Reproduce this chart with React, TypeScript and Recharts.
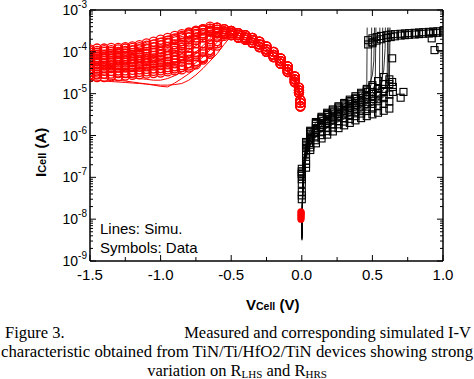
import React from "react";
import { ComposedChart, Line, Scatter, XAxis, YAxis } from "recharts";

const RED = "#ff0000";
const BLACK = "#000000";
const SANS = "'Liberation Sans', Arial, sans-serif";
const SERIF = "'Liberation Serif', 'Times New Roman', serif";

// ---- axes ----
const X_MAJOR = [-1.5, -1.0, -0.5, 0, 0.5, 1.0];
const X_LABELS = ["-1.5", "-1.0", "-0.5", "0.0", "0.5", "1.0"];
const X_MINOR = [-1.25, -0.75, -0.25, 0.25, 0.75];
const Y_DECADES = [1e-9, 1e-8, 1e-7, 1e-6, 1e-5, 1e-4, 1e-3];
const Y_EXP = ["-9", "-8", "-7", "-6", "-5", "-4", "-3"];
const Y_MINOR_MULT = [2, 3, 4, 5, 6, 7, 8, 9];

// ---- negative sweep (reset), red ----
const V_NEG = [
  -1.5, -1.45, -1.4, -1.35, -1.3, -1.25, -1.2, -1.15, -1.1, -1.05, -1.0, -0.95,
  -0.9, -0.85, -0.8, -0.75, -0.7, -0.65, -0.6, -0.55, -0.5, -0.45, -0.4, -0.35,
  -0.3, -0.25, -0.2, -0.15, -0.1, -0.05, -0.02, -0.01,
];
// low-resistance branch, V = -0.65 ... -0.01
const LRS_HI = [4.0e-4, 3.8e-4, 3.5e-4, 3.15e-4, 2.8e-4, 2.5e-4, 2.15e-4, 1.75e-4, 1.35e-4, 1.0e-4, 7e-5, 4.5e-5, 2.6e-5, 1.4e-5, 7e-6];
const LRS_MID = [3.6e-4, 3.4e-4, 3.1e-4, 2.8e-4, 2.5e-4, 2.2e-4, 1.9e-4, 1.5e-4, 1.15e-4, 8.5e-5, 6e-5, 3.8e-5, 2.2e-5, 1.2e-5, 6e-6];
const LRS_LO = [3.2e-4, 3.0e-4, 2.75e-4, 2.5e-4, 2.2e-4, 1.95e-4, 1.65e-4, 1.3e-4, 1.0e-4, 7.5e-5, 5.2e-5, 3.3e-5, 1.9e-5, 1.05e-5, 5e-6];

// measured reset parts (from -1.5 V)
const RESET_A = [1.15e-4, 1.2e-4, 1.2e-4, 1.25e-4, 1.25e-4, 1.3e-4, 1.35e-4, 1.45e-4, 1.6e-4, 1.75e-4, 1.95e-4, 2.15e-4, 2.4e-4, 2.65e-4, 2.9e-4, 3.2e-4, 3.5e-4];
const RESET_H = [1.05e-4, 1.05e-4, 1.1e-4, 1.1e-4, 1.15e-4, 1.2e-4, 1.25e-4, 1.3e-4, 1.4e-4, 1.5e-4, 1.65e-4, 1.85e-4, 2.1e-4, 2.4e-4, 2.75e-4, 3.1e-4, 3.5e-4];
const RESET_B = [9.5e-5, 9.5e-5, 1.0e-4, 1.0e-4, 1.0e-4, 1.05e-4, 1.1e-4, 1.15e-4, 1.2e-4, 1.3e-4, 1.45e-4, 1.65e-4, 1.9e-4, 2.2e-4, 2.6e-4, 3.0e-4, 3.4e-4];
const RESET_I = [8.5e-5, 8.5e-5, 8.5e-5, 8.8e-5, 9e-5, 9e-5, 9.3e-5, 9.6e-5, 1.0e-4, 1.05e-4, 1.15e-4, 1.3e-4, 1.5e-4, 1.8e-4, 2.2e-4, 2.7e-4, 3.2e-4];
const RESET_C = [7.5e-5, 7.5e-5, 7.5e-5, 8e-5, 8e-5, 8e-5, 8.5e-5, 8.5e-5, 9e-5, 9.5e-5, 1.0e-4, 1.1e-4, 1.25e-4, 1.45e-4, 1.75e-4, 2.2e-4, 2.8e-4];
const RESET_J = [6.7e-5, 6.7e-5, 6.8e-5, 6.8e-5, 7e-5, 7e-5, 7.2e-5, 7.4e-5, 7.6e-5, 8e-5, 8.5e-5, 9.2e-5, 1.05e-4, 1.25e-4, 1.5e-4, 1.9e-4, 2.5e-4, 3.2e-4];
const RESET_D = [6e-5, 6e-5, 6e-5, 6e-5, 6.2e-5, 6.2e-5, 6.5e-5, 6.5e-5, 6.8e-5, 7e-5, 7.3e-5, 7.8e-5, 8.5e-5, 1.0e-4, 1.25e-4, 1.6e-4, 2.2e-4, 3.0e-4];
const RESET_K = [5.3e-5, 5.3e-5, 5.3e-5, 5.4e-5, 5.5e-5, 5.5e-5, 5.7e-5, 5.8e-5, 6e-5, 6.2e-5, 6.5e-5, 6.8e-5, 7.3e-5, 8.2e-5, 9.5e-5, 1.2e-4, 1.6e-4, 2.3e-4, 3.0e-4];
const RESET_E = [4.6e-5, 4.6e-5, 4.7e-5, 4.7e-5, 4.8e-5, 4.8e-5, 5e-5, 5e-5, 5.2e-5, 5.4e-5, 5.6e-5, 5.8e-5, 6.2e-5, 7e-5, 8e-5, 1.0e-4, 1.4e-4, 2.0e-4, 2.8e-4];
const RESET_L = [4e-5, 4e-5, 4.1e-5, 4.1e-5, 4.2e-5, 4.2e-5, 4.3e-5, 4.4e-5, 4.5e-5, 4.7e-5, 4.8e-5, 5e-5, 5.3e-5, 5.8e-5, 6.5e-5, 7.8e-5, 1.0e-4, 1.5e-4, 2.3e-4];
const RESET_F = [3.4e-5, 3.4e-5, 3.5e-5, 3.5e-5, 3.6e-5, 3.6e-5, 3.7e-5, 3.8e-5, 3.9e-5, 4e-5, 4.1e-5, 4.3e-5, 4.5e-5, 4.8e-5, 5.3e-5, 6e-5, 7.5e-5, 1.1e-4, 1.8e-4];
const RESET_M = [2.9e-5, 2.9e-5, 3.0e-5, 3.0e-5, 3.1e-5, 3.1e-5, 3.2e-5, 3.3e-5, 3.4e-5, 3.5e-5, 3.6e-5, 3.8e-5, 4e-5, 4.3e-5, 4.7e-5, 5.5e-5, 7e-5, 1.0e-4, 1.6e-4, 2.6e-4];
const RESET_G = [2.5e-5, 2.5e-5, 2.5e-5, 2.6e-5, 2.6e-5, 2.7e-5, 2.8e-5, 2.9e-5, 3.0e-5, 3.1e-5, 3.2e-5, 3.4e-5, 3.6e-5, 3.8e-5, 4.2e-5, 5e-5, 6.5e-5, 9e-5, 1.4e-4, 2.4e-4];

// simulated reset parts
const SIM_A = [1.05e-4, 1.1e-4, 1.1e-4, 1.15e-4, 1.2e-4, 1.25e-4, 1.35e-4, 1.5e-4, 1.7e-4, 1.9e-4, 2.1e-4, 2.35e-4, 2.6e-4, 2.9e-4, 3.2e-4, 3.4e-4, 3.6e-4];
const SIM_H = [9.5e-5, 1.0e-4, 1.0e-4, 1.05e-4, 1.1e-4, 1.15e-4, 1.2e-4, 1.3e-4, 1.45e-4, 1.6e-4, 1.8e-4, 2.0e-4, 2.25e-4, 2.55e-4, 2.9e-4, 3.2e-4, 3.5e-4];
const SIM_B = [8.5e-5, 8.5e-5, 8.8e-5, 9e-5, 9.2e-5, 9.5e-5, 1.0e-4, 1.05e-4, 1.1e-4, 1.2e-4, 1.35e-4, 1.5e-4, 1.75e-4, 2.05e-4, 2.4e-4, 2.8e-4, 3.2e-4];
const SIM_I = [7e-5, 7e-5, 7e-5, 7.2e-5, 7.4e-5, 7.6e-5, 7.8e-5, 8e-5, 8.3e-5, 8.8e-5, 9.5e-5, 1.05e-4, 1.2e-4, 1.4e-4, 1.7e-4, 2.1e-4, 2.7e-4, 3.3e-4];
const SIM_C = [5.5e-5, 5.5e-5, 5.6e-5, 5.7e-5, 5.8e-5, 6e-5, 6.2e-5, 6.5e-5, 6.8e-5, 7.2e-5, 7.8e-5, 8.5e-5, 1.0e-4, 1.2e-4, 1.5e-4, 2.0e-4, 2.7e-4];
const SIM_J = [4.8e-5, 4.8e-5, 4.9e-5, 5e-5, 5e-5, 5.1e-5, 5.3e-5, 5.5e-5, 5.7e-5, 6e-5, 6.4e-5, 7e-5, 7.8e-5, 9e-5, 1.1e-4, 1.4e-4, 1.9e-4, 2.6e-4];
const SIM_D = [4e-5, 4e-5, 4e-5, 4e-5, 4e-5, 4e-5, 4e-5, 4.1e-5, 4.2e-5, 4.3e-5, 4.5e-5, 4.8e-5, 5.3e-5, 6e-5, 7e-5, 9e-5, 1.2e-4, 1.8e-4, 2.8e-4];
const SIM_G = [3.2e-5, 3.3e-5, 3.3e-5, 3.4e-5, 3.5e-5, 3.6e-5, 3.7e-5, 3.9e-5, 4.1e-5, 4.4e-5, 4.7e-5, 5.1e-5, 5.7e-5, 6.5e-5, 8e-5, 1.0e-4, 1.4e-4, 2.1e-4, 3.0e-4];
const SIM_F = [3e-5, 2.9e-5, 2.8e-5, 2.7e-5, 2.6e-5, 2.5e-5, 2.4e-5, 2.3e-5, 2.2e-5, 2.1e-5, 2.1e-5, 2.3e-5, 2.7e-5, 3.3e-5, 4.2e-5, 5.5e-5, 7.5e-5, 1.1e-4, 1.7e-4, 2.5e-4];
const SIM_E = [2.6e-5, 2.5e-5, 2.3e-5, 2.2e-5, 2.1e-5, 2.0e-5, 1.9e-5, 1.8e-5, 1.7e-5, 1.6e-5, 1.5e-5, 1.45e-5, 1.8e-5, 2.3e-5, 3e-5, 4e-5, 5.5e-5, 8e-5, 1.3e-4, 2.0e-4, 2.7e-4];
const SIM_K = [2.2e-5, 2.1e-5, 2.0e-5, 1.95e-5, 1.9e-5, 1.85e-5, 1.8e-5, 1.75e-5, 1.7e-5, 1.65e-5, 1.6e-5, 1.6e-5, 1.65e-5, 1.75e-5, 2.1e-5, 2.8e-5, 4e-5, 6e-5, 9e-5, 1.5e-4, 2.4e-4];

// red cluster right at 0 V
const RED_ZERO_V = [-0.006, -0.005, -0.006, -0.005, -0.004, -0.006];
const RED_ZERO_I = [1.0e-8, 1.1e-8, 1.2e-8, 1.3e-8, 1.4e-8, 1.5e-8];

// ---- positive sweep (set), black ----
const V_POS = [0, 0.03, 0.06, 0.1, 0.14, 0.18, 0.22, 0.26, 0.3, 0.34, 0.38, 0.42, 0.46, 0.5, 0.54, 0.58, 0.62];
const SQ_A = [1.6e-7, 7e-7, 1.2e-6, 1.9e-6, 2.5e-6, 3.1e-6, 3.7e-6, 4.4e-6, 5.2e-6, 6.2e-6, 7.5e-6, 9e-6, 1.1e-5];
const SQ_G = [1.3e-7, 6.5e-7, 1.25e-6, 2e-6, 2.65e-6, 3.3e-6, 3.95e-6, 4.7e-6, 5.6e-6, 6.7e-6, 8e-6, 9.7e-6, 1.2e-5, 1.45e-5];
const SQ_B = [1.1e-7, 5e-7, 1.0e-6, 1.5e-6, 2e-6, 2.5e-6, 3e-6, 3.6e-6, 4.2e-6, 5e-6, 6e-6, 7e-6, 8.5e-6, 1.0e-5, 1.3e-5];
const SQ_H = [9e-8, 4.2e-7, 9e-7, 1.35e-6, 1.8e-6, 2.25e-6, 2.7e-6, 3.25e-6, 3.8e-6, 4.5e-6, 5.3e-6, 6.2e-6, 7.4e-6, 8.7e-6, 1.05e-5, 1.3e-5, 1.7e-5];
const SQ_C = [7e-8, 3.5e-7, 8e-7, 1.2e-6, 1.6e-6, 2e-6, 2.4e-6, 2.9e-6, 3.4e-6, 4e-6, 4.7e-6, 5.5e-6, 6.4e-6, 7.5e-6, 9e-6, 1.1e-5];
const SQ_D = [4.5e-8, 2.5e-7, 6e-7, 9e-7, 1.2e-6, 1.5e-6, 1.85e-6, 2.2e-6, 2.6e-6, 3.1e-6, 3.6e-6, 4.2e-6, 4.9e-6, 5.7e-6, 6.6e-6, 7.8e-6, 9.5e-6];
const SQ_I = [3.7e-8, 2.1e-7, 5.2e-7, 7.7e-7, 1.02e-6, 1.27e-6, 1.55e-6, 1.85e-6, 2.15e-6, 2.5e-6, 2.9e-6, 3.35e-6, 3.85e-6, 4.4e-6, 5e-6, 5.7e-6, 6.6e-6];
const SQ_E = [3e-8, 1.7e-7, 4.5e-7, 6.5e-7, 8.5e-7, 1.05e-6, 1.25e-6, 1.5e-6, 1.75e-6, 2e-6, 2.3e-6, 2.6e-6, 2.9e-6, 3.2e-6, 3.5e-6, 3.9e-6, 4.4e-6];
const SQ_F = [1.4e-7, 6e-7, 1.3e-6, 2.1e-6, 2.8e-6, 3.5e-6, 4.2e-6, 5e-6, 6e-6, 7.2e-6, 8.7e-6, 1.05e-5, 1.3e-5, 1.6e-5, 2.0e-5, 2.5e-5];
const SQ_J = [1.2e-7, 5.5e-7, 1.1e-6, 1.7e-6, 2.25e-6, 2.8e-6, 3.35e-6, 4e-6, 4.7e-6, 5.6e-6, 6.6e-6, 7.8e-6, 9.3e-6, 1.1e-5, 1.35e-5, 1.7e-5, 2.2e-5];

const V_LRS_POS = [0.47, 0.5, 0.53, 0.56, 0.6, 0.63, 0.66, 0.7, 0.73, 0.76, 0.8, 0.83, 0.86, 0.9, 0.93, 0.96, 1.0];
const LRS_POS_HI = [1.9e-4, 2.1e-4, 2.25e-4, 2.4e-4, 2.5e-4, 2.6e-4, 2.65e-4, 2.7e-4, 2.75e-4, 2.8e-4, 2.85e-4, 2.9e-4, 2.95e-4, 3.0e-4, 3.05e-4, 3.1e-4, 3.2e-4];
const LRS_POS_LO = [1.5e-4, 1.7e-4, 1.85e-4, 2.0e-4, 2.15e-4, 2.25e-4, 2.35e-4, 2.45e-4, 2.5e-4, 2.55e-4, 2.6e-4, 2.65e-4, 2.7e-4, 2.75e-4, 2.8e-4, 2.85e-4, 2.9e-4];

const OUT_V = [0.64, 0.64, 0.645, 0.645, 0.72, 0.70, 0.5, 0.92, 0.94, 0.98];
const OUT_I = [7e-5, 1.9e-5, 1.45e-5, 1.1e-5, 1.1e-5, 8e-6, 1.6e-4, 2.1e-4, 1.1e-4, 1.3e-4];

// simulated set curves: shared HRS voltages, then each curve's own jump
const BSIM_V = [0.001, 0.003, 0.007, 0.015, 0.03, 0.05, 0.08, 0.12, 0.17, 0.22, 0.28, 0.34, 0.4, 0.45];
const BSIM_1 = [4e-9, 2e-8, 7e-8, 2.5e-7, 6e-7, 1.0e-6, 1.5e-6, 2.1e-6, 2.8e-6, 3.5e-6, 4.5e-6, 5.8e-6, 7.5e-6, 1.0e-5];
const BSIM_2 = [3.8e-9, 1.8e-8, 6e-8, 2e-7, 5e-7, 8.5e-7, 1.3e-6, 1.8e-6, 2.4e-6, 3e-6, 3.8e-6, 4.8e-6, 6.2e-6, 8e-6];
const BSIM_3 = [3.5e-9, 1.6e-8, 5e-8, 1.7e-7, 4.2e-7, 7.2e-7, 1.1e-6, 1.55e-6, 2.05e-6, 2.6e-6, 3.3e-6, 4.1e-6, 5.2e-6, 6.5e-6];
const BSIM_4 = [3.3e-9, 1.5e-8, 4.5e-8, 1.5e-7, 3.6e-7, 6.2e-7, 9.5e-7, 1.35e-6, 1.8e-6, 2.25e-6, 2.85e-6, 3.5e-6, 4.4e-6, 5.4e-6];
const BSIM_5 = [3.2e-9, 1.4e-8, 4e-8, 1.3e-7, 3.1e-7, 5.3e-7, 8.2e-7, 1.15e-6, 1.55e-6, 1.95e-6, 2.45e-6, 3e-6, 3.7e-6, 4.5e-6];
const BSIM_6 = [4.2e-9, 2.2e-8, 8e-8, 2.8e-7, 7e-7, 1.15e-6, 1.7e-6, 2.4e-6, 3.2e-6, 4e-6, 5.2e-6, 6.7e-6, 8.8e-6, 1.2e-5];
const BSIM_7 = [3.6e-9, 1.7e-8, 5.5e-8, 1.9e-7, 4.6e-7, 7.8e-7, 1.2e-6, 1.7e-6, 2.25e-6, 2.8e-6, 3.55e-6, 4.4e-6, 5.6e-6, 7e-6];
const BSIM_8 = [3.9e-9, 1.9e-8, 6.5e-8, 2.2e-7, 5.5e-7, 9.2e-7, 1.4e-6, 1.95e-6, 2.6e-6, 3.25e-6, 4.15e-6, 5.3e-6, 6.8e-6, 9e-6];
const BSIM_9 = [3.4e-9, 1.55e-8, 4.7e-8, 1.6e-7, 3.9e-7, 6.7e-7, 1.02e-6, 1.45e-6, 1.92e-6, 2.42e-6, 3.05e-6, 3.8e-6, 4.8e-6, 6e-6];
const BSIM_10 = [3.1e-9, 1.3e-8, 3.7e-8, 1.2e-7, 2.9e-7, 5e-7, 7.7e-7, 1.08e-6, 1.45e-6, 1.85e-6, 2.3e-6, 2.85e-6, 3.5e-6, 4.2e-6];
const TAIL_1 = [[0.46, 1.3e-5], [0.463, 3.8e-4]];
const TAIL_2 = [[0.5, 1.1e-5], [0.52, 1.8e-5], [0.525, 3.8e-4]];
const TAIL_3 = [[0.5, 8.5e-6], [0.55, 1.3e-5], [0.57, 2e-5], [0.573, 3.8e-4]];
const TAIL_4 = [[0.5, 7e-6], [0.55, 9.5e-6], [0.59, 1.4e-5], [0.605, 2.5e-5], [0.608, 3.8e-4]];
const TAIL_5 = [[0.5, 5.7e-6], [0.55, 7.5e-6], [0.6, 1.0e-5], [0.62, 1.5e-5], [0.625, 3.8e-4]];
const TAIL_6 = [[0.48, 1.7e-5], [0.5, 2.8e-5], [0.51, 6e-5], [0.515, 3.8e-4]];
const TAIL_7 = [[0.5, 9.5e-6], [0.54, 1.3e-5], [0.56, 1.9e-5], [0.58, 3.5e-5], [0.59, 1.2e-4], [0.592, 3.8e-4]];
const TAIL_8 = [[0.47, 1.1e-5], [0.49, 1.6e-5], [0.495, 3.8e-4]];
const TAIL_9 = [[0.5, 7.8e-6], [0.54, 1.1e-5], [0.55, 1.6e-5], [0.553, 3.8e-4]];
const TAIL_10 = [[0.5, 5.3e-6], [0.55, 7e-6], [0.6, 9.5e-6], [0.615, 2e-5], [0.617, 3.8e-4]];

type Pt = { v: number; i: number };

function zip(vs: number[], is: number[]): Pt[] {
  return is.map((i, k) => ({ v: vs[k], i }));
}

// reset head followed by the matching part of an LRS branch
function resetCurve(head: number[], lrs: number[]): Pt[] {
  const offset = V_NEG.length - lrs.length;
  const vals = [...head, ...lrs.slice(head.length - offset)];
  return zip(V_NEG, vals);
}

function setCurve(hrs: number[], tail: number[][]): Pt[] {
  return [...zip(BSIM_V, hrs), ...tail.map(([v, i]) => ({ v, i }))];
}

const RED_DATA = [
  resetCurve(RESET_A, LRS_HI),
  resetCurve(RESET_H, LRS_MID),
  resetCurve(RESET_B, LRS_MID),
  resetCurve(RESET_I, LRS_LO),
  resetCurve(RESET_C, LRS_LO),
  resetCurve(RESET_J, LRS_HI),
  resetCurve(RESET_D, LRS_HI),
  resetCurve(RESET_K, LRS_MID),
  resetCurve(RESET_E, LRS_MID),
  resetCurve(RESET_L, LRS_LO),
  resetCurve(RESET_F, LRS_LO),
  resetCurve(RESET_M, LRS_HI),
  resetCurve(RESET_G, LRS_MID),
];
const RED_SIM = [
  resetCurve(SIM_A, LRS_MID),
  resetCurve(SIM_H, LRS_HI),
  resetCurve(SIM_B, LRS_HI),
  resetCurve(SIM_I, LRS_MID),
  resetCurve(SIM_C, LRS_LO),
  resetCurve(SIM_J, LRS_LO),
  resetCurve(SIM_D, LRS_MID),
  resetCurve(SIM_G, LRS_HI),
  resetCurve(SIM_F, LRS_MID),
  resetCurve(SIM_E, LRS_LO),
  resetCurve(SIM_K, LRS_MID),
];
const BLACK_DATA = [
  ...[SQ_A, SQ_G, SQ_B, SQ_H, SQ_C, SQ_D, SQ_I, SQ_E, SQ_F, SQ_J].map((s) => zip(V_POS, s)),
  zip(V_LRS_POS, LRS_POS_HI),
  zip(V_LRS_POS, LRS_POS_LO),
  zip(OUT_V, OUT_I),
];
const BLACK_SIM = [
  setCurve(BSIM_1, TAIL_1),
  setCurve(BSIM_2, TAIL_2),
  setCurve(BSIM_3, TAIL_3),
  setCurve(BSIM_4, TAIL_4),
  setCurve(BSIM_5, TAIL_5),
  setCurve(BSIM_6, TAIL_6),
  setCurve(BSIM_7, TAIL_7),
  setCurve(BSIM_8, TAIL_8),
  setCurve(BSIM_9, TAIL_9),
  setCurve(BSIM_10, TAIL_10),
];
const RED_ZERO = zip(RED_ZERO_V, RED_ZERO_I);

const X_TICKS = [...X_MAJOR, ...X_MINOR].sort((a, b) => a - b);
const Y_TICKS = [
  ...Y_DECADES,
  ...Y_DECADES.slice(0, -1).flatMap((d) => Y_MINOR_MULT.map((m) => m * d)),
].sort((a, b) => a - b);

function decadeIndex(v: number) {
  return Y_DECADES.findIndex((d) => Math.abs(v / d - 1) < 1e-6);
}
function xMajorIndex(v: number) {
  return X_MAJOR.findIndex((d) => Math.abs(v - d) < 1e-6);
}

function LeftTick(p: any) {
  const k = decadeIndex(p.payload.value);
  return (
    <g>
      <line x1={p.x} x2={p.x + (k >= 0 ? 6 : 3)} y1={p.y} y2={p.y} stroke={BLACK} strokeWidth={1} />
      {k >= 0 && (
        <text x={p.x - 3} y={p.y + 5} textAnchor="end" fontFamily={SANS} fontSize={14} fill={BLACK}>
          10<tspan dy={-7} fontSize={10}>{Y_EXP[k]}</tspan>
        </text>
      )}
    </g>
  );
}

function RightTick(p: any) {
  const k = decadeIndex(p.payload.value);
  return <line x1={p.x} x2={p.x - (k >= 0 ? 6 : 3)} y1={p.y} y2={p.y} stroke={BLACK} strokeWidth={1} />;
}

function BottomTick(p: any) {
  const k = xMajorIndex(p.payload.value);
  return (
    <g>
      <line x1={p.x} x2={p.x} y1={p.y} y2={p.y - (k >= 0 ? 6 : 4)} stroke={BLACK} strokeWidth={1} />
      {k >= 0 && (
        <text x={p.x} y={p.y + 19} textAnchor="middle" fontFamily={SANS} fontSize={15} fill={BLACK}>
          {X_LABELS[k]}
        </text>
      )}
    </g>
  );
}

function TopTick(p: any) {
  const k = xMajorIndex(p.payload.value);
  return <line x1={p.x} x2={p.x} y1={p.y} y2={p.y + (k >= 0 ? 6 : 4)} stroke={BLACK} strokeWidth={1} />;
}

const circleShape = (p: any) => (
  <circle cx={p.cx} cy={p.cy} r={4.5} fill="none" stroke={RED} strokeWidth={1.3} />
);
const blobShape = (p: any) => <circle cx={p.cx} cy={p.cy} r={3.6} fill={RED} stroke="none" />;
const squareShape = (p: any) => (
  <rect x={p.cx - 3.5} y={p.cy - 3.5} width={7} height={7} fill="none" stroke={BLACK} strokeWidth={1.1} />
);

const frame = { stroke: BLACK, strokeWidth: 1.5 };

export default function App() {
  return (
    <div style={{ position: "absolute", left: 0, top: 0, width: 474, height: 379, background: "#fff" }}>
      <ComposedChart width={474} height={300} margin={{ top: 9, right: 30, bottom: 9, left: 0 }}>
        <XAxis
          type="number" dataKey="v" domain={[-1.5, 1]} allowDataOverflow ticks={X_TICKS} interval={0}
          tickSize={0} tickMargin={0} tickLine={false} axisLine={frame} height={30}
          tick={(p: any) => <BottomTick {...p} />}
        />
        <XAxis
          xAxisId="top" orientation="top" type="number" dataKey="v" domain={[-1.5, 1]} allowDataOverflow
          ticks={X_TICKS} interval={0} tickSize={0} tickMargin={0} tickLine={false} axisLine={frame} height={1}
          tick={(p: any) => <TopTick {...p} />}
        />
        <YAxis
          type="number" dataKey="i" scale="log" domain={[1e-9, 1e-3]} allowDataOverflow ticks={Y_TICKS}
          interval={0} tickSize={0} tickMargin={0} tickLine={false} axisLine={frame} width={90}
          tick={(p: any) => <LeftTick {...p} />}
        />
        <YAxis
          yAxisId="right" orientation="right" type="number" dataKey="i" scale="log" domain={[1e-9, 1e-3]}
          allowDataOverflow ticks={Y_TICKS} interval={0} tickSize={0} tickMargin={0} tickLine={false}
          axisLine={frame} width={1} tick={(p: any) => <RightTick {...p} />}
        />

        {RED_SIM.map((d, k) => (
          <Line key={`rs${k}`} data={d} dataKey="i" stroke={RED} strokeWidth={1} dot={false} type="linear" isAnimationActive={false} />
        ))}
        {RED_DATA.map((d, k) => (
          <Scatter key={`rd${k}`} data={d} dataKey="i" shape={circleShape} isAnimationActive={false} />
        ))}
        {BLACK_SIM.map((d, k) => (
          <Line key={`bs${k}`} data={d} dataKey="i" stroke={BLACK} strokeWidth={0.8} dot={false} type="linear" isAnimationActive={false} />
        ))}
        {BLACK_DATA.map((d, k) => (
          <Scatter key={`bd${k}`} data={d} dataKey="i" shape={squareShape} isAnimationActive={false} />
        ))}
        <Scatter data={RED_ZERO} dataKey="i" shape={blobShape} isAnimationActive={false} />
      </ComposedChart>

      <svg width={474} height={379} style={{ position: "absolute", left: 0, top: 0, pointerEvents: "none" }}>
        <text x={46} y={177} transform="rotate(-90 46 177)" fontFamily={SANS} fontWeight="bold" fontSize={15} fill={BLACK}>
          I<tspan fontSize={11}>Cell</tspan> (A)
        </text>
        <text x={100} y={234} fontFamily={SANS} fontSize={15} fill={BLACK}>Lines: Simu.</text>
        <text x={100} y={253} fontFamily={SANS} fontSize={15} fill={BLACK}>Symbols: Data</text>
        <text x={246} y={310} fontFamily={SANS} fontWeight="bold" fontSize={15} fill={BLACK}>
          V<tspan fontSize={10.5}>Cell</tspan> (V)
        </text>
        <text x={5} y={338} fontFamily={SERIF} fontSize={16.5} fill={BLACK}>Figure 3.</text>
        <text x={471} y={338} textAnchor="end" fontFamily={SERIF} fontSize={16.5} fill={BLACK}>
          Measured and corresponding simulated I-V
        </text>
        <text x={1} y={357} fontFamily={SERIF} fontSize={16} fill={BLACK} textLength={472} lengthAdjust="spacingAndGlyphs">
          characteristic obtained from TiN/Ti/HfO2/TiN devices showing strong
        </text>
        <text x={237} y={376} textAnchor="middle" fontFamily={SERIF} fontSize={16.5} fill={BLACK}>
          variation on R<tspan fontSize={11} dy={2}>LHS</tspan><tspan dy={-2}> and R</tspan><tspan fontSize={11} dy={2}>HRS</tspan>
        </text>
      </svg>
    </div>
  );
}
